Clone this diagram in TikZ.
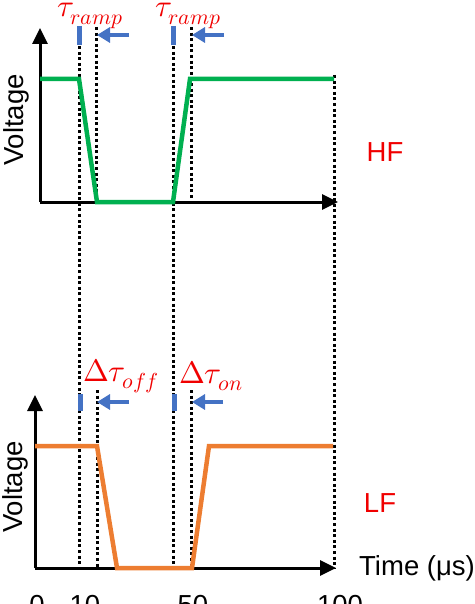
\documentclass[tikz,border=0pt]{standalone}
\usepackage{fontspec}
\usepackage{unicode-math}
\setmainfont{Liberation Sans}
\setmathfont{Latin Modern Math}
\usetikzlibrary{arrows.meta}
\definecolor{hfgreen}{RGB}{0,176,80}
\definecolor{lforange}{RGB}{237,125,49}
\definecolor{myblue}{RGB}{68,114,196}
\definecolor{myred}{RGB}{240,0,0}
\tikzset{
  axis/.style={line width=3pt,-{Triangle[length=16pt,width=15pt]}},
  guide/.style={line width=3pt,dash pattern=on 3pt off 2.6pt},
  sig/.style={line width=4.5pt,line join=miter},
  marker/.style={myblue,line width=5pt},
  pointer/.style={myblue,line width=3.5pt,-{Triangle[length=13pt,width=15pt]}},
  lbl/.style={inner sep=0pt,font=\fontsize{27.5}{32}\selectfont},
  rlbl/.style={lbl,text=myred},
  mlbl/.style={inner sep=0pt,text=myred,font=\fontsize{31}{36}\selectfont}
}
\begin{document}
\begin{tikzpicture}[x=1pt,y=-1pt]
\useasboundingbox (0,0) rectangle (474,604);
% ---------- top panel (HF) ----------
\draw[guide] (79,46) -- (79,568);
\draw[guide] (173,46) -- (173,568);
\draw[guide] (96,27) -- (96,200);
\draw[guide] (191,27) -- (191,200);
\draw[guide] (334,75) -- (334,568);
\coordinate (o1) at (40,202);
\coordinate (yt1) at (40,28);
\coordinate (xt1) at (338,202);
\draw[axis] (o1) -- (yt1);
\draw[axis] (o1) -- (xt1);
\draw[sig,hfgreen] (40,79) -- (79,79) -- (97,202) -- (173,202) -- (190,79) -- (334,79);
\draw[marker] (79,26) -- (79,45);
\draw[marker] (173,26) -- (173,45);
\coordinate (a1s) at (129,35);
\coordinate (a1e) at (97,35);
\coordinate (a2s) at (224,35);
\coordinate (a2e) at (192,35);
\draw[pointer] (a1s) -- (a1e);
\draw[pointer] (a2s) -- (a2e);
\node[mlbl] (tr1) at (90,16) {$\tau_{ramp}$};
\node[mlbl] (tr2) at (188,16) {$\tau_{ramp}$};
\node[rlbl] (hf) at (385,152) {HF};
\node[lbl,rotate=90] (v1) at (16,120) {Voltage};
% ---------- bottom panel (LF) ----------
\draw[guide] (97,390) -- (97,568);
\draw[guide] (191,390) -- (191,568);
\coordinate (o2) at (35,568);
\coordinate (yt2) at (35,395);
\coordinate (xt2) at (336,568);
\draw[axis] (o2) -- (yt2);
\draw[axis] (o2) -- (xt2);
\draw[sig,lforange] (35,446) -- (97,446) -- (117,568) -- (192,568) -- (209,446) -- (333,446);
\draw[marker] (80,394) -- (80,411);
\draw[marker] (174,394) -- (174,411);
\coordinate (b1s) at (129,402);
\coordinate (b1e) at (97,402);
\coordinate (b2s) at (223,402);
\coordinate (b2e) at (192,402);
\draw[pointer] (b1s) -- (b1e);
\draw[pointer] (b2s) -- (b2e);
\node[mlbl] (doff) at (121,376) {$\Delta\tau_{off}$};
\node[mlbl] (don) at (211,376) {$\Delta\tau_{on}$};
\node[rlbl] (lf) at (380,503) {LF};
\node[lbl,rotate=90] (v2) at (15,487) {Voltage};
\node[lbl,anchor=west] (time) at (359,568) {Time (μs)};
\node[lbl,anchor=base] (t0) at (37,614) {0};
\node[lbl,anchor=base] (t10) at (85,614) {10};
\node[lbl,anchor=base] (t50) at (193,614) {50};
\node[lbl,anchor=base] (t100) at (340,614) {100};
\end{tikzpicture}
\end{document}
